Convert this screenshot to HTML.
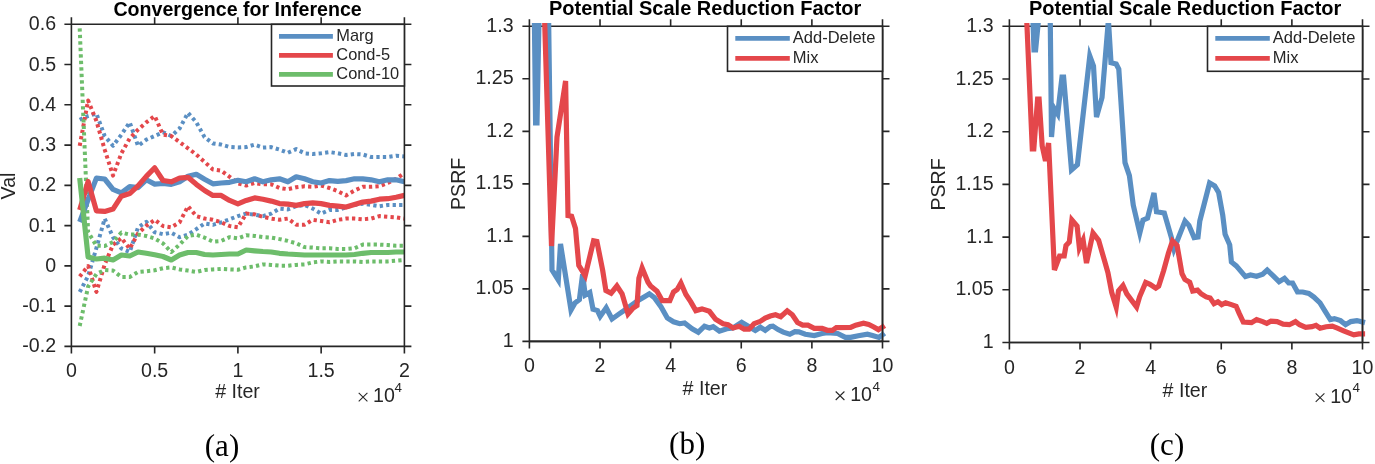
<!DOCTYPE html><html><head><meta charset="utf-8"><style>html,body{margin:0;padding:0;background:#fff;overflow:hidden}svg{display:block;will-change:transform}</style></head><body><svg width="1375" height="464" viewBox="0 0 1375 464">
<rect width="1375" height="464" fill="#fff"/>
<path d="M79.7 119.8 L88.1 116.0 L96.4 113.6 L104.7 136.0 L113.0 145.8 L121.4 134.7 L129.7 122.3 L138.0 145.8 L146.3 139.7 L154.7 136.0 L163.0 132.2 L171.3 136.0 L179.6 128.5 L188.0 112.8 L196.3 122.3 L204.6 137.2 L212.9 143.4 L221.2 144.6 L229.6 147.0 L237.9 147.5 L246.2 147.1 L254.6 144.6 L262.9 147.6 L271.2 147.1 L279.5 149.6 L287.9 152.8 L296.2 149.1 L304.5 153.3 L312.8 154.0 L321.1 153.3 L329.5 152.1 L337.8 153.3 L346.1 155.0 L354.5 154.0 L362.8 154.5 L371.1 157.0 L379.4 157.0 L387.8 157.0 L396.1 155.8 L404.4 156.5" fill="none" stroke="#5a8fc3" stroke-width="4.0" stroke-linejoin="round" stroke-linecap="butt" stroke-dasharray="3.3 3.2"/>
<path d="M79.7 292.0 L88.1 276.0 L96.4 248.0 L104.7 218.6 L113.0 237.2 L121.4 248.5 L129.7 252.0 L138.0 227.5 L146.3 221.8 L154.7 232.2 L163.0 234.2 L171.3 232.7 L179.6 237.2 L188.0 234.7 L196.3 229.2 L204.6 223.5 L212.9 224.8 L221.2 222.3 L229.6 219.3 L237.9 216.1 L246.2 213.6 L254.6 214.8 L262.9 216.1 L271.2 213.6 L279.5 208.6 L287.9 209.4 L296.2 206.2 L304.5 204.9 L312.8 208.6 L321.1 213.6 L329.5 209.9 L337.8 209.9 L346.1 207.4 L354.5 204.9 L362.8 203.7 L371.1 204.9 L379.4 206.2 L387.8 204.9 L396.1 204.9 L404.4 204.9" fill="none" stroke="#5a8fc3" stroke-width="4.0" stroke-linejoin="round" stroke-linecap="butt" stroke-dasharray="3.3 3.2"/>
<path d="M79.7 145.8 L88.1 100.5 L96.4 121.0 L104.7 149.6 L113.0 175.6 L121.4 153.3 L129.7 138.4 L138.0 129.7 L146.3 122.3 L154.7 116.0 L163.0 134.7 L171.3 136.0 L179.6 142.1 L188.0 148.3 L196.3 154.5 L204.6 162.0 L212.9 169.4 L221.2 170.6 L229.6 176.8 L237.9 183.3 L246.2 185.5 L254.6 183.0 L262.9 184.3 L271.2 184.3 L279.5 188.0 L287.9 189.2 L296.2 187.3 L304.5 186.3 L312.8 186.8 L321.1 185.5 L329.5 188.0 L337.8 191.2 L346.1 195.4 L354.5 190.5 L362.8 186.8 L371.1 186.8 L379.4 186.3 L387.8 183.0 L396.1 178.8 L404.4 173.1" fill="none" stroke="#e4474b" stroke-width="4.0" stroke-linejoin="round" stroke-linecap="butt" stroke-dasharray="3.3 3.2"/>
<path d="M79.7 276.5 L88.1 266.0 L96.4 292.0 L104.7 264.5 L113.0 244.8 L121.4 238.0 L129.7 248.7 L138.0 233.5 L146.3 225.8 L154.7 219.8 L163.0 226.0 L171.3 227.3 L179.6 222.3 L188.0 206.2 L196.3 216.1 L204.6 218.6 L212.9 219.8 L221.2 222.3 L229.6 226.0 L237.9 227.3 L246.2 213.6 L254.6 214.3 L262.9 216.8 L271.2 218.6 L279.5 219.8 L287.9 218.6 L296.2 224.7 L304.5 224.7 L312.8 219.8 L321.1 221.0 L329.5 222.3 L337.8 219.8 L346.1 218.6 L354.5 218.6 L362.8 219.3 L371.1 218.6 L379.4 216.1 L387.8 216.8 L396.1 217.3 L404.4 218.6" fill="none" stroke="#e4474b" stroke-width="4.0" stroke-linejoin="round" stroke-linecap="butt" stroke-dasharray="3.3 3.2"/>
<path d="M79.7 28.3 L88.1 232.0 L96.4 245.7 L104.7 246.0 L113.0 242.0 L121.4 232.5 L129.7 234.6 L138.0 234.6 L146.3 236.0 L154.7 238.5 L163.0 243.4 L171.3 252.0 L179.6 244.6 L188.0 236.0 L196.3 234.7 L204.6 237.7 L212.9 241.6 L221.2 240.9 L229.6 237.2 L237.9 238.4 L246.2 235.2 L254.6 235.9 L262.9 237.1 L271.2 237.6 L279.5 239.1 L287.9 240.9 L296.2 243.3 L304.5 247.1 L312.8 247.6 L321.1 248.3 L329.5 248.3 L337.8 249.0 L346.1 249.0 L354.5 248.3 L362.8 244.6 L371.1 244.6 L379.4 244.6 L387.8 245.1 L396.1 245.8 L404.4 245.8" fill="none" stroke="#6dbd6b" stroke-width="4.0" stroke-linejoin="round" stroke-linecap="butt" stroke-dasharray="3.3 3.2"/>
<path d="M79.7 326.0 L88.1 286.6 L96.4 274.0 L104.7 270.0 L113.0 270.5 L121.4 277.0 L129.7 277.0 L138.0 272.0 L146.3 271.3 L154.7 270.3 L163.0 268.2 L171.3 267.4 L179.6 269.4 L188.0 270.6 L196.3 271.9 L204.6 269.9 L212.9 269.4 L221.2 268.9 L229.6 269.4 L237.9 269.7 L246.2 267.4 L254.6 266.4 L262.9 264.4 L271.2 264.9 L279.5 265.7 L287.9 265.7 L296.2 264.9 L304.5 264.4 L312.8 262.4 L321.1 261.4 L329.5 261.9 L337.8 261.4 L346.1 261.4 L354.5 261.4 L362.8 261.9 L371.1 261.4 L379.4 261.4 L387.8 261.4 L396.1 260.7 L404.4 260.0" fill="none" stroke="#6dbd6b" stroke-width="4.0" stroke-linejoin="round" stroke-linecap="butt" stroke-dasharray="3.3 3.2"/>
<path d="M79.7 222.0 L88.1 199.7 L96.4 178.1 L104.7 179.0 L113.0 189.3 L121.4 192.8 L129.7 186.7 L138.0 187.6 L146.3 179.8 L154.7 184.1 L163.0 183.5 L171.3 184.3 L179.6 181.8 L188.0 176.3 L196.3 174.3 L204.6 179.3 L212.9 183.8 L221.2 183.0 L229.6 182.3 L237.9 180.3 L246.2 181.8 L254.6 178.8 L262.9 181.8 L271.2 179.8 L279.5 178.8 L287.9 181.8 L296.2 176.8 L304.5 178.8 L312.8 181.8 L321.1 183.0 L329.5 180.6 L337.8 181.3 L346.1 180.6 L354.5 178.8 L362.8 178.8 L371.1 179.8 L379.4 181.8 L387.8 179.8 L396.1 179.8 L404.4 181.8" fill="none" stroke="#5a8fc3" stroke-width="5.2" stroke-linejoin="round" stroke-linecap="butt"/>
<path d="M79.7 210.0 L88.1 181.5 L96.4 210.9 L104.7 211.4 L113.0 209.1 L121.4 196.2 L129.7 193.6 L138.0 185.9 L146.3 176.4 L154.7 167.8 L163.0 180.5 L171.3 181.8 L179.6 178.0 L188.0 177.3 L196.3 184.3 L204.6 190.5 L212.9 195.4 L221.2 195.4 L229.6 200.4 L237.9 203.8 L246.2 200.4 L254.6 197.9 L262.9 199.2 L271.2 201.1 L279.5 203.6 L287.9 204.1 L296.2 205.4 L304.5 203.6 L312.8 202.9 L321.1 203.6 L329.5 205.4 L337.8 206.1 L346.1 207.1 L354.5 204.6 L362.8 202.1 L371.1 201.1 L379.4 199.2 L387.8 198.7 L396.1 197.2 L404.4 195.4" fill="none" stroke="#e4474b" stroke-width="5.2" stroke-linejoin="round" stroke-linecap="butt"/>
<path d="M79.7 178.0 L88.1 257.0 L96.4 259.0 L104.7 258.2 L113.0 260.0 L121.4 255.0 L129.7 256.0 L138.0 252.0 L146.3 253.3 L154.7 254.8 L163.0 256.5 L171.3 260.0 L179.6 255.0 L188.0 252.5 L196.3 252.5 L204.6 254.5 L212.9 255.0 L221.2 254.5 L229.6 254.0 L237.9 254.0 L246.2 250.0 L254.6 250.8 L262.9 251.5 L271.2 252.0 L279.5 253.3 L287.9 254.0 L296.2 254.5 L304.5 255.0 L312.8 255.0 L321.1 255.0 L329.5 255.0 L337.8 255.0 L346.1 255.0 L354.5 254.5 L362.8 253.3 L371.1 252.5 L379.4 252.5 L387.8 252.5 L396.1 252.0 L404.4 252.0" fill="none" stroke="#6dbd6b" stroke-width="5.2" stroke-linejoin="round" stroke-linecap="butt"/>
<path d="M71.4 24.3H404.4V346.4H71.4ZM71.4 346.4v6.2M71.4 24.3v-6.2M154.65 346.4v6.2M154.65 24.3v-6.2M237.9 346.4v6.2M237.9 24.3v-6.2M321.15 346.4v6.2M321.15 24.3v-6.2M404.4 346.4v6.2M404.4 24.3v-6.2M71.4 346.4h-6.2M404.4 346.4h6.2M71.4 306.14h-6.2M404.4 306.14h6.2M71.4 265.88h-6.2M404.4 265.88h6.2M71.4 225.61h-6.2M404.4 225.61h6.2M71.4 185.35h-6.2M404.4 185.35h6.2M71.4 145.09h-6.2M404.4 145.09h6.2M71.4 104.82h-6.2M404.4 104.82h6.2M71.4 64.56h-6.2M404.4 64.56h6.2M71.4 24.3h-6.2M404.4 24.3h6.2" fill="none" stroke="#262626" stroke-width="1.6" stroke-linecap="square"/>
<text x="71.4" y="376.7" text-anchor="middle" font-size="19.6" font-weight="normal" font-family="Liberation Sans" fill="#262626" >0</text>
<text x="154.65" y="376.7" text-anchor="middle" font-size="19.6" font-weight="normal" font-family="Liberation Sans" fill="#262626" >0.5</text>
<text x="237.9" y="376.7" text-anchor="middle" font-size="19.6" font-weight="normal" font-family="Liberation Sans" fill="#262626" >1</text>
<text x="321.15" y="376.7" text-anchor="middle" font-size="19.6" font-weight="normal" font-family="Liberation Sans" fill="#262626" >1.5</text>
<text x="404.4" y="376.7" text-anchor="middle" font-size="19.6" font-weight="normal" font-family="Liberation Sans" fill="#262626" >2</text>
<text x="56.1" y="352.4" text-anchor="end" font-size="19.6" font-weight="normal" font-family="Liberation Sans" fill="#262626" >-0.2</text>
<text x="56.1" y="312.14" text-anchor="end" font-size="19.6" font-weight="normal" font-family="Liberation Sans" fill="#262626" >-0.1</text>
<text x="56.1" y="271.88" text-anchor="end" font-size="19.6" font-weight="normal" font-family="Liberation Sans" fill="#262626" >0</text>
<text x="56.1" y="231.61" text-anchor="end" font-size="19.6" font-weight="normal" font-family="Liberation Sans" fill="#262626" >0.1</text>
<text x="56.1" y="191.35" text-anchor="end" font-size="19.6" font-weight="normal" font-family="Liberation Sans" fill="#262626" >0.2</text>
<text x="56.1" y="151.09" text-anchor="end" font-size="19.6" font-weight="normal" font-family="Liberation Sans" fill="#262626" >0.3</text>
<text x="56.1" y="110.82" text-anchor="end" font-size="19.6" font-weight="normal" font-family="Liberation Sans" fill="#262626" >0.4</text>
<text x="56.1" y="70.56" text-anchor="end" font-size="19.6" font-weight="normal" font-family="Liberation Sans" fill="#262626" >0.5</text>
<text x="56.1" y="30.3" text-anchor="end" font-size="19.6" font-weight="normal" font-family="Liberation Sans" fill="#262626" >0.6</text>
<text x="237.5" y="397.7" text-anchor="middle" font-size="19.6" font-weight="normal" font-family="Liberation Sans" fill="#262626" ># Iter</text>
<text x="15.3" y="186" text-anchor="middle" font-size="19.6" font-weight="normal" font-family="Liberation Sans" fill="#262626" transform="rotate(-90 15.3 186)">Val</text>
<path d="M358.7 392.9L367.4 401.4M367.4 392.9L358.7 401.4" stroke="#262626" stroke-width="1.05"/>
<text x="373" y="402.2" text-anchor="start" font-size="19.6" font-weight="normal" font-family="Liberation Sans" fill="#262626" >10</text>
<text x="394.5" y="392" text-anchor="start" font-size="13.4" font-weight="normal" font-family="Liberation Sans" fill="#262626" >4</text>
<text x="237.6" y="15.6" text-anchor="middle" font-size="19.6" font-weight="bold" font-family="Liberation Sans" fill="#000" >Convergence for Inference</text>
<rect x="271.5" y="24.3" width="132.9" height="61.7" fill="#fff" stroke="#262626" stroke-width="1.6"/>
<path d="M279 36.3H332.9" stroke="#5a8fc3" stroke-width="4.8"/>
<text x="336.3" y="41.1" text-anchor="start" font-size="16.4" font-weight="normal" font-family="Liberation Sans" fill="#262626" >Marg</text>
<path d="M279 55.3H332.9" stroke="#e4474b" stroke-width="4.8"/>
<text x="336.3" y="60.1" text-anchor="start" font-size="16.4" font-weight="normal" font-family="Liberation Sans" fill="#262626" >Cond-5</text>
<path d="M279 74.3H332.9" stroke="#6dbd6b" stroke-width="4.8"/>
<text x="336.3" y="79.1" text-anchor="start" font-size="16.4" font-weight="normal" font-family="Liberation Sans" fill="#262626" >Cond-10</text>
<path d="M529.4 26.3H882.5V341.4H529.4ZM529.4 341.4v6.2M529.4 26.3v-6.2M600.02 341.4v6.2M600.02 26.3v-6.2M670.64 341.4v6.2M670.64 26.3v-6.2M741.26 341.4v6.2M741.26 26.3v-6.2M811.88 341.4v6.2M811.88 26.3v-6.2M882.5 341.4v6.2M882.5 26.3v-6.2M529.4 341.4h-6.2M882.5 341.4h6.2M529.4 288.88h-6.2M882.5 288.88h6.2M529.4 236.37h-6.2M882.5 236.37h6.2M529.4 183.85h-6.2M882.5 183.85h6.2M529.4 131.33h-6.2M882.5 131.33h6.2M529.4 78.82h-6.2M882.5 78.82h6.2M529.4 26.3h-6.2M882.5 26.3h6.2" fill="none" stroke="#262626" stroke-width="1.6" stroke-linecap="square"/>
<clipPath id="cb"><rect x="519.4" y="23.0" width="373.1" height="328.1"/></clipPath>
<g clip-path="url(#cb)"><path d="M533.0 -100.0 L535.6 123.0 L537.0 123.0 L541.3 -100.0 L547.0 -100.0 L552.0 270.0 L558.3 280.0 L560.5 244.0 L571.0 310.0 L575.0 302.9 L579.4 299.6 L582.6 274.4 L585.2 295.1 L589.8 292.5 L593.0 309.3 L597.5 310.6 L600.2 316.4 L606.2 307.8 L612.0 319.0 L619.0 314.0 L624.3 310.3 L638.5 300.3 L644.1 297.0 L649.3 293.8 L654.4 297.7 L661.1 306.9 L667.3 318.0 L673.5 321.8 L679.7 323.7 L684.6 323.0 L692.1 328.7 L698.3 332.2 L704.5 326.2 L709.4 328.0 L713.2 326.7 L719.4 331.2 L726.8 328.7 L733.0 328.0 L741.7 322.3 L749.1 326.7 L755.3 330.4 L760.3 327.2 L765.2 330.3 L770.3 326.4 L772.9 326.1 L778.1 329.6 L783.3 332.2 L789.8 334.2 L794.9 331.6 L798.8 331.8 L805.3 334.2 L814.3 335.5 L822.1 333.5 L827.3 332.6 L837.6 333.5 L845.4 337.4 L850.6 337.4 L858.3 335.7 L867.4 334.2 L872.5 335.5 L879.0 337.4 L882.5 334.8" fill="none" stroke="#5a8fc3" stroke-width="5.2" stroke-linejoin="miter" stroke-miterlimit="5" stroke-linecap="square"/><path d="M533.0 -300.0 L540.0 -300.0 L544.0 0.0 L551.5 246.0 L557.0 137.0 L565.6 81.0 L568.0 215.5 L571.6 216.2 L575.5 228.5 L578.8 265.3 L585.2 275.7 L593.6 240.8 L596.9 241.4 L602.7 270.5 L605.9 290.6 L611.1 293.2 L616.9 286.0 L622.1 293.8 L628.0 314.0 L633.1 308.0 L637.0 305.5 L638.9 278.3 L642.1 268.0 L648.0 282.2 L650.6 286.0 L657.0 291.2 L662.3 300.7 L669.8 300.7 L673.5 292.0 L677.2 289.5 L680.9 283.0 L685.9 294.5 L690.8 301.9 L695.8 310.6 L702.0 308.9 L709.4 311.3 L715.6 319.3 L723.1 323.7 L728.0 324.7 L733.0 328.0 L739.2 326.2 L744.2 329.2 L749.1 329.2 L754.1 323.7 L760.3 321.3 L765.2 318.0 L770.3 316.0 L775.5 314.8 L780.7 316.7 L787.2 310.9 L792.3 314.8 L797.5 322.5 L802.7 325.1 L807.9 325.1 L814.3 328.3 L822.1 328.3 L827.3 330.3 L832.4 330.3 L836.3 327.7 L850.6 327.4 L855.7 325.1 L863.5 323.2 L868.7 324.5 L873.8 327.0 L878.4 329.6 L882.5 327.0" fill="none" stroke="#e4474b" stroke-width="5.2" stroke-linejoin="miter" stroke-miterlimit="5" stroke-linecap="square"/></g>
<path d="M882.5 29.3V341.4M529.4 341.4H882.5" fill="none" stroke="#262626" stroke-width="1.6"/>
<text x="529.4" y="372" text-anchor="middle" font-size="19.6" font-weight="normal" font-family="Liberation Sans" fill="#262626" >0</text>
<text x="600.02" y="372" text-anchor="middle" font-size="19.6" font-weight="normal" font-family="Liberation Sans" fill="#262626" >2</text>
<text x="670.64" y="372" text-anchor="middle" font-size="19.6" font-weight="normal" font-family="Liberation Sans" fill="#262626" >4</text>
<text x="741.26" y="372" text-anchor="middle" font-size="19.6" font-weight="normal" font-family="Liberation Sans" fill="#262626" >6</text>
<text x="811.88" y="372" text-anchor="middle" font-size="19.6" font-weight="normal" font-family="Liberation Sans" fill="#262626" >8</text>
<text x="882.5" y="372" text-anchor="middle" font-size="19.6" font-weight="normal" font-family="Liberation Sans" fill="#262626" >10</text>
<text x="513.6" y="347" text-anchor="end" font-size="19.6" font-weight="normal" font-family="Liberation Sans" fill="#262626" >1</text>
<text x="513.6" y="294.48" text-anchor="end" font-size="19.6" font-weight="normal" font-family="Liberation Sans" fill="#262626" >1.05</text>
<text x="513.6" y="241.97" text-anchor="end" font-size="19.6" font-weight="normal" font-family="Liberation Sans" fill="#262626" >1.1</text>
<text x="513.6" y="189.45" text-anchor="end" font-size="19.6" font-weight="normal" font-family="Liberation Sans" fill="#262626" >1.15</text>
<text x="513.6" y="136.93" text-anchor="end" font-size="19.6" font-weight="normal" font-family="Liberation Sans" fill="#262626" >1.2</text>
<text x="513.6" y="84.42" text-anchor="end" font-size="19.6" font-weight="normal" font-family="Liberation Sans" fill="#262626" >1.25</text>
<text x="513.6" y="31.9" text-anchor="end" font-size="19.6" font-weight="normal" font-family="Liberation Sans" fill="#262626" >1.3</text>
<text x="704.95" y="394.9" text-anchor="middle" font-size="19.6" font-weight="normal" font-family="Liberation Sans" fill="#262626" ># Iter</text>
<text x="464.8" y="183.85" text-anchor="middle" font-size="19.6" font-weight="normal" font-family="Liberation Sans" fill="#262626" transform="rotate(-90 464.8 183.85)">PSRF</text>
<path d="M835.7 391.5l8.7 8.5m0 -8.5l-8.7 8.5" stroke="#262626" stroke-width="1.05"/>
<text x="850.2" y="401" text-anchor="start" font-size="19.6" font-weight="normal" font-family="Liberation Sans" fill="#262626" >10</text>
<text x="872.5" y="390.6" text-anchor="start" font-size="13.4" font-weight="normal" font-family="Liberation Sans" fill="#262626" >4</text>
<text x="705.15" y="15.2" text-anchor="middle" font-size="20.0" font-weight="bold" font-family="Liberation Sans" fill="#000" >Potential Scale Reduction Factor</text>
<rect x="727.5" y="26.3" width="155" height="45" fill="#fff" stroke="#262626" stroke-width="1.6"/>
<path d="M735.3 38.4H789.8" stroke="#5a8fc3" stroke-width="4.6"/>
<text x="792.8" y="43" text-anchor="start" font-size="16.5" font-weight="normal" font-family="Liberation Sans" fill="#262626" >Add-Delete</text>
<path d="M735.3 58.4H789.8" stroke="#e4474b" stroke-width="4.6"/>
<text x="792.8" y="63" text-anchor="start" font-size="16.5" font-weight="normal" font-family="Liberation Sans" fill="#262626" >Mix</text>
<path d="M1009.4 26.3H1362.5V342.5H1009.4ZM1009.4 342.5v6.2M1009.4 26.3v-6.2M1080.02 342.5v6.2M1080.02 26.3v-6.2M1150.64 342.5v6.2M1150.64 26.3v-6.2M1221.26 342.5v6.2M1221.26 26.3v-6.2M1291.88 342.5v6.2M1291.88 26.3v-6.2M1362.5 342.5v6.2M1362.5 26.3v-6.2M1009.4 342.5h-6.2M1362.5 342.5h6.2M1009.4 289.8h-6.2M1362.5 289.8h6.2M1009.4 237.1h-6.2M1362.5 237.1h6.2M1009.4 184.4h-6.2M1362.5 184.4h6.2M1009.4 131.7h-6.2M1362.5 131.7h6.2M1009.4 79h-6.2M1362.5 79h6.2M1009.4 26.3h-6.2M1362.5 26.3h6.2" fill="none" stroke="#262626" stroke-width="1.6" stroke-linecap="square"/>
<clipPath id="cc"><rect x="999.4" y="23.0" width="373.1" height="329.2"/></clipPath>
<g clip-path="url(#cc)"><path d="M1032.2 0.0 L1034.0 50.0 L1035.6 50.0 L1040.4 0.0 L1049.5 -50.0 L1051.5 137.0 L1054.0 108.0 L1057.7 114.0 L1062.0 77.0 L1063.6 77.0 L1071.5 170.0 L1077.4 164.8 L1089.8 56.0 L1093.5 66.0 L1096.5 117.0 L1102.0 97.6 L1108.4 20.0 L1111.0 62.7 L1116.2 64.0 L1118.8 69.1 L1125.0 162.7 L1129.4 175.6 L1133.3 205.3 L1139.8 233.0 L1143.0 220.2 L1147.5 218.2 L1154.0 193.0 L1156.5 211.8 L1164.3 213.0 L1171.4 237.6 L1174.0 249.0 L1185.0 221.0 L1188.9 225.3 L1194.1 237.6 L1198.0 237.0 L1199.8 221.0 L1209.6 183.0 L1214.7 185.9 L1218.6 192.4 L1222.7 215.0 L1225.1 234.4 L1229.7 244.8 L1231.4 262.0 L1236.3 265.9 L1245.4 276.6 L1250.5 275.0 L1256.6 276.2 L1262.7 274.2 L1267.2 270.1 L1273.0 275.6 L1279.1 281.7 L1284.5 278.3 L1288.7 283.0 L1292.6 283.0 L1297.5 292.0 L1302.7 292.0 L1308.8 293.4 L1313.9 297.1 L1320.0 302.8 L1325.2 311.4 L1330.3 319.6 L1334.4 318.6 L1340.5 320.6 L1345.6 324.7 L1350.8 321.6 L1356.9 320.6 L1362.5 322.0" fill="none" stroke="#5a8fc3" stroke-width="5.2" stroke-linejoin="miter" stroke-miterlimit="5" stroke-linecap="square"/><path d="M1025.0 -20.0 L1032.3 149.0 L1033.8 149.0 L1037.6 99.0 L1039.1 99.0 L1042.2 146.0 L1045.5 161.0 L1048.6 143.0 L1054.4 270.0 L1059.6 256.0 L1064.2 256.0 L1066.0 245.5 L1069.3 242.0 L1071.9 220.0 L1077.1 226.0 L1079.4 248.0 L1083.1 240.0 L1086.5 263.0 L1093.0 233.0 L1098.6 240.3 L1104.9 262.0 L1107.9 272.6 L1111.7 292.3 L1116.2 307.0 L1118.5 290.8 L1123.0 285.5 L1126.8 293.8 L1136.6 307.0 L1139.6 296.8 L1145.7 282.5 L1150.0 284.3 L1155.8 288.2 L1158.7 286.2 L1163.6 270.7 L1168.4 253.3 L1172.5 241.0 L1177.1 245.5 L1182.0 273.6 L1184.9 279.4 L1189.7 282.3 L1192.7 291.1 L1197.5 290.1 L1201.4 294.0 L1206.2 296.9 L1210.1 297.9 L1214.0 303.7 L1217.9 301.7 L1221.7 304.6 L1225.6 302.7 L1231.4 304.6 L1236.1 306.3 L1239.2 313.4 L1243.3 322.0 L1251.5 322.7 L1256.6 319.6 L1262.7 321.6 L1266.8 323.3 L1270.9 321.2 L1277.1 321.6 L1283.2 324.1 L1289.4 324.7 L1295.5 321.6 L1299.6 324.7 L1305.7 327.4 L1311.9 326.7 L1316.0 325.3 L1320.1 328.2 L1326.2 326.7 L1332.3 326.1 L1337.4 328.2 L1343.6 330.8 L1348.7 332.9 L1353.8 334.9 L1358.9 333.9 L1362.5 333.9" fill="none" stroke="#e4474b" stroke-width="5.2" stroke-linejoin="miter" stroke-miterlimit="5" stroke-linecap="square"/></g>
<path d="M1362.5 29.3V342.5M1009.4 342.5H1362.5" fill="none" stroke="#262626" stroke-width="1.6"/>
<text x="1009.4" y="373.8" text-anchor="middle" font-size="19.6" font-weight="normal" font-family="Liberation Sans" fill="#262626" >0</text>
<text x="1080.02" y="373.8" text-anchor="middle" font-size="19.6" font-weight="normal" font-family="Liberation Sans" fill="#262626" >2</text>
<text x="1150.64" y="373.8" text-anchor="middle" font-size="19.6" font-weight="normal" font-family="Liberation Sans" fill="#262626" >4</text>
<text x="1221.26" y="373.8" text-anchor="middle" font-size="19.6" font-weight="normal" font-family="Liberation Sans" fill="#262626" >6</text>
<text x="1291.88" y="373.8" text-anchor="middle" font-size="19.6" font-weight="normal" font-family="Liberation Sans" fill="#262626" >8</text>
<text x="1362.5" y="373.8" text-anchor="middle" font-size="19.6" font-weight="normal" font-family="Liberation Sans" fill="#262626" >10</text>
<text x="993.6" y="348.1" text-anchor="end" font-size="19.6" font-weight="normal" font-family="Liberation Sans" fill="#262626" >1</text>
<text x="993.6" y="295.4" text-anchor="end" font-size="19.6" font-weight="normal" font-family="Liberation Sans" fill="#262626" >1.05</text>
<text x="993.6" y="242.7" text-anchor="end" font-size="19.6" font-weight="normal" font-family="Liberation Sans" fill="#262626" >1.1</text>
<text x="993.6" y="190" text-anchor="end" font-size="19.6" font-weight="normal" font-family="Liberation Sans" fill="#262626" >1.15</text>
<text x="993.6" y="137.3" text-anchor="end" font-size="19.6" font-weight="normal" font-family="Liberation Sans" fill="#262626" >1.2</text>
<text x="993.6" y="84.6" text-anchor="end" font-size="19.6" font-weight="normal" font-family="Liberation Sans" fill="#262626" >1.25</text>
<text x="993.6" y="31.9" text-anchor="end" font-size="19.6" font-weight="normal" font-family="Liberation Sans" fill="#262626" >1.3</text>
<text x="1184.95" y="396.7" text-anchor="middle" font-size="19.6" font-weight="normal" font-family="Liberation Sans" fill="#262626" ># Iter</text>
<text x="944.8" y="184.4" text-anchor="middle" font-size="19.6" font-weight="normal" font-family="Liberation Sans" fill="#262626" transform="rotate(-90 944.8 184.4)">PSRF</text>
<path d="M1315.7 393.3l8.7 8.5m0 -8.5l-8.7 8.5" stroke="#262626" stroke-width="1.05"/>
<text x="1330.2" y="402.8" text-anchor="start" font-size="19.6" font-weight="normal" font-family="Liberation Sans" fill="#262626" >10</text>
<text x="1352.5" y="392.4" text-anchor="start" font-size="13.4" font-weight="normal" font-family="Liberation Sans" fill="#262626" >4</text>
<text x="1185.15" y="15.2" text-anchor="middle" font-size="20.0" font-weight="bold" font-family="Liberation Sans" fill="#000" >Potential Scale Reduction Factor</text>
<rect x="1207.5" y="26.3" width="155" height="45" fill="#fff" stroke="#262626" stroke-width="1.6"/>
<path d="M1215.3 38.4H1269.8" stroke="#5a8fc3" stroke-width="4.6"/>
<text x="1272.8" y="43" text-anchor="start" font-size="16.5" font-weight="normal" font-family="Liberation Sans" fill="#262626" >Add-Delete</text>
<path d="M1215.3 58.4H1269.8" stroke="#e4474b" stroke-width="4.6"/>
<text x="1272.8" y="63" text-anchor="start" font-size="16.5" font-weight="normal" font-family="Liberation Sans" fill="#262626" >Mix</text>
<text x="222" y="456.2" text-anchor="middle" font-size="31" font-weight="normal" font-family="Liberation Serif" fill="#000" >(a)</text>
<text x="687.2" y="453.9" text-anchor="middle" font-size="31" font-weight="normal" font-family="Liberation Serif" fill="#000" >(b)</text>
<text x="1167" y="455.3" text-anchor="middle" font-size="31" font-weight="normal" font-family="Liberation Serif" fill="#000" >(c)</text>
</svg></body></html>
